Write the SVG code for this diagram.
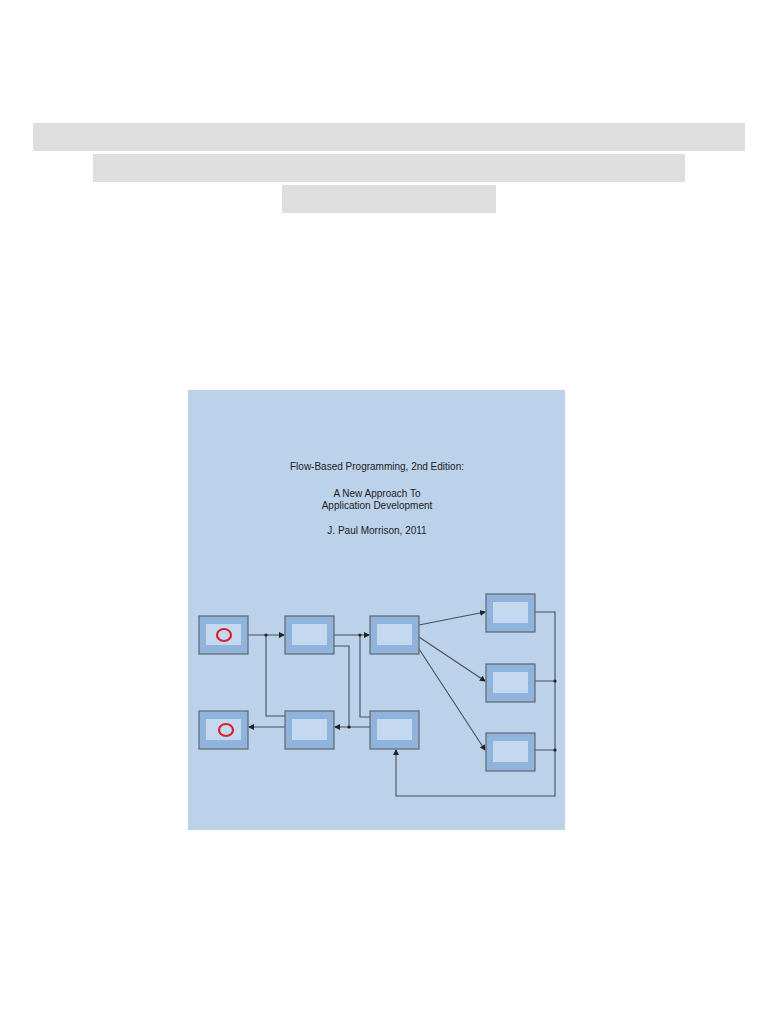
<svg xmlns="http://www.w3.org/2000/svg" width="768" height="1024" viewBox="0 0 768 1024">
<style>
.n{fill:#8fb3da;stroke:#5f6670;stroke-width:1.2}
.i{fill:#c4d8f0}
.c{fill:none;stroke:#4a4f55;stroke-width:1.1}
.d{fill:#222}
.t{font-family:"Liberation Sans",Arial,sans-serif;font-size:10px;fill:#222;text-anchor:middle}
.bar{fill:#dedede}
</style>
<defs><marker id="a" markerWidth="6" markerHeight="6" refX="5" refY="3" orient="auto" markerUnits="userSpaceOnUse"><path d="M0,0L6,3L0,6z" fill="#222"/></marker></defs>
<rect width="768" height="1024" fill="#fff"/>
<rect class="bar" x="33" y="123" width="712" height="28"/>
<rect class="bar" x="93" y="154" width="592" height="28"/>
<rect class="bar" x="282" y="185" width="214" height="28"/>
<rect x="188" y="390" width="377" height="440" fill="#bcd1ea"/>
<text class="t" x="377" y="470">Flow-Based Programming, 2nd Edition:</text>
<text class="t" x="377" y="497">A New Approach To</text>
<text class="t" x="377" y="509">Application Development</text>
<text class="t" x="377" y="534">J. Paul Morrison, 2011</text>
<g id="connectors">
<path class="c" d="M248,635H284" marker-end="url(#a)"/>
<path class="c" d="M266,635V716H285"/>
<path class="c" d="M334,635H369" marker-end="url(#a)"/>
<path class="c" d="M360,635V717H370"/>
<path class="c" d="M334,646H349V727"/>
<path class="c" d="M370,727H335" marker-end="url(#a)"/>
<path class="c" d="M285,727H249" marker-end="url(#a)"/>
<path class="c" d="M419,625L485,612" marker-end="url(#a)"/>
<path class="c" d="M419,637L485,681" marker-end="url(#a)"/>
<path class="c" d="M419,649L485,750" marker-end="url(#a)"/>
<path class="c" d="M535,612H555V796H396V750" marker-end="url(#a)"/>
<path class="c" d="M535,681H555M535,750H555"/>
<circle class="d" cx="266" cy="635" r="1.6"/><circle class="d" cx="360" cy="635" r="1.6"/>
<circle class="d" cx="349" cy="727" r="1.6"/><circle class="d" cx="555" cy="681" r="1.6"/>
<circle class="d" cx="555" cy="750" r="1.6"/>
</g>
<g id="nA"><rect class="n" x="199" y="616" width="49" height="38"/><rect class="i" x="206" y="624" width="35" height="21"/><ellipse cx="224" cy="635" rx="7" ry="6" fill="none" stroke="#d8202c" stroke-width="2.2"/></g>
<g id="nB"><rect class="n" x="285" y="616" width="49" height="38"/><rect class="i" x="292" y="624" width="35" height="21"/></g>
<g id="nC"><rect class="n" x="370" y="616" width="49" height="38"/><rect class="i" x="377" y="624" width="35" height="21"/></g>
<g id="nD"><rect class="n" x="486" y="594" width="49" height="38"/><rect class="i" x="493" y="602" width="35" height="21"/></g>
<g id="nE"><rect class="n" x="486" y="664" width="49" height="38"/><rect class="i" x="493" y="672" width="35" height="21"/></g>
<g id="nF"><rect class="n" x="486" y="733" width="49" height="38"/><rect class="i" x="493" y="741" width="35" height="21"/></g>
<g id="nG"><rect class="n" x="199" y="711" width="49" height="38"/><rect class="i" x="206" y="719" width="35" height="21"/><ellipse cx="226" cy="730" rx="7" ry="6" fill="none" stroke="#d8202c" stroke-width="2.2"/></g>
<g id="nH"><rect class="n" x="285" y="711" width="49" height="38"/><rect class="i" x="292" y="719" width="35" height="21"/></g>
<g id="nI"><rect class="n" x="370" y="711" width="49" height="38"/><rect class="i" x="377" y="719" width="35" height="21"/></g>
</svg>
